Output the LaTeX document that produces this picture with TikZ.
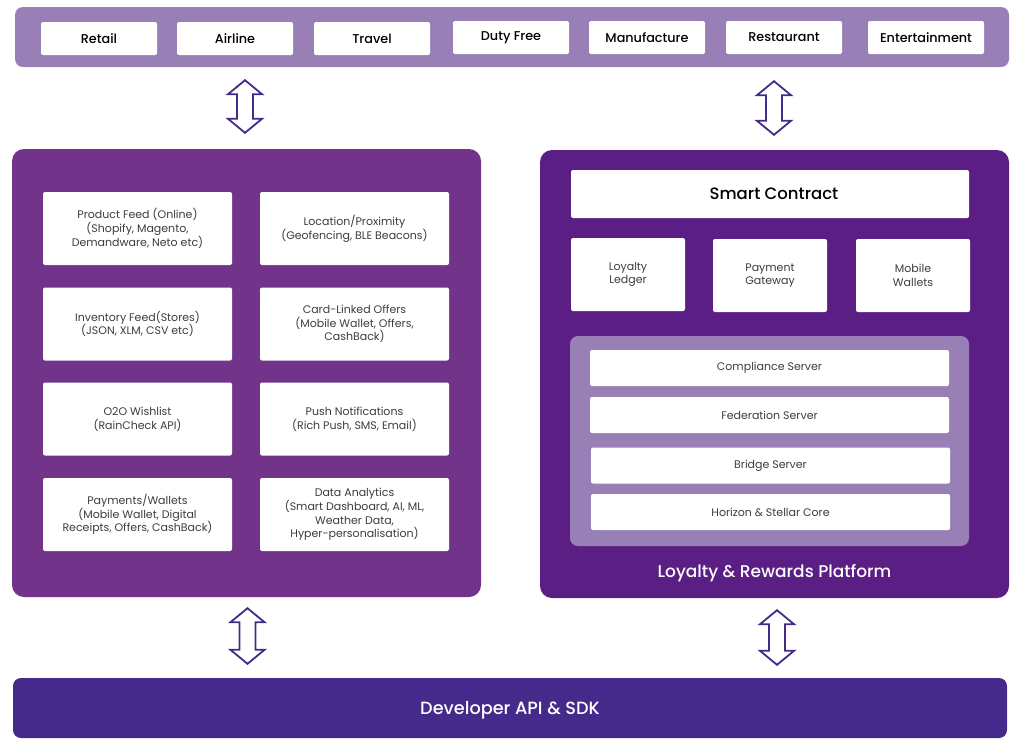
\documentclass[tikz,border=0pt]{standalone}
\usepackage{fontspec}
\setmainfont[BoldFont={Poppins Medium}]{Poppins}
\usetikzlibrary{calc}
\definecolor{lilac}{HTML}{9880B6}
\definecolor{plum}{HTML}{72338A}
\definecolor{grape}{HTML}{5A1E84}
\definecolor{indigo}{HTML}{452A8B}
\definecolor{inktext}{HTML}{3C3C44}
\tikzset{
    band/.style={fill=#1, rounded corners=8pt, inner sep=0pt, text=white},
    whitebox/.style={fill=white, rounded corners=2pt, inner sep=0pt, align=center, text=inktext,
        font=\fontsize{11}{13.7}\selectfont},
    sectorbox/.style={whitebox, minimum width=116pt, minimum height=33pt, text=black,
        font=\fontsize{12.8}{14}\selectfont\bfseries},
    feedbox/.style={whitebox, minimum width=189pt, minimum height=73pt},
    modulebox/.style={whitebox, minimum width=114pt, minimum height=73pt},
    serverbox/.style={whitebox, minimum width=359pt, minimum height=36pt},
    blockarrow/.style 2 args={draw=indigo, line width=1.8pt, fill=white, to path={
        let \p1=(\tikztostart), \p2=(\tikztotarget) in
        (\x1,\y1-#1pt) -- (\x1+17pt,\y1-#1pt-14pt) -- (\x1+8pt,\y1-#1pt-14pt)
        -- (\x1+8pt,\y2+#2pt+14pt) -- (\x1+17pt,\y2+#2pt+14pt) -- (\x1,\y2+#2pt)
        -- (\x1-17pt,\y2+#2pt+14pt) -- (\x1-8pt,\y2+#2pt+14pt)
        -- (\x1-8pt,\y1-#1pt-14pt) -- (\x1-17pt,\y1-#1pt-14pt) -- cycle}}
}
\begin{document}
\begin{tikzpicture}[x=1pt, y=-1pt]
    \useasboundingbox (0,0) rectangle (1024,753);

    % Sectors
    \node[band=lilac, minimum width=994pt, minimum height=60pt] (sectors) at (512,37) {};
    \foreach \name/\x/\y/\label in {retail/99/38.5/Retail, airline/235/38.5/Airline, travel/372/38.5/Travel,
        dutyfree/511/37.5/Duty Free, manufacture/647/37.5/Manufacture, restaurant/784/37.5/Restaurant,
        entertainment/926/37.5/Entertainment} {
        \node[sectorbox] (\name) at (\x,\y) {\label};
    }

    % Left panel
    \node[band=plum, rounded corners=12pt, minimum width=469pt, minimum height=448pt] (feeds) at (246.5,373) {};
    \foreach \name/\x/\y/\label in {
        product/137.5/228.5/{Product Feed (Online)\\(Shopify, Magento,\\Demandware, Neto etc)},
        location/354.5/228.5/{Location/Proximity\\(Geofencing, BLE Beacons)},
        inventory/137.5/324/{Inventory Feed(Stores)\\(JSON, XLM, CSV etc)},
        card/354.5/324/{Card-Linked Offers\\(Mobile Wallet, Offers,\\CashBack)},
        wishlist/137.5/419/{O2O Wishlist\\(RainCheck API)},
        push/354.5/419/{Push Notifications\\(Rich Push, SMS, Email)},
        payments/137.5/514.5/{Payments/Wallets\\(Mobile Wallet, Digital\\Receipts, Offers, CashBack)},
        analytics/354.5/514.5/{Data Analytics\\(Smart Dashboard, AI, ML,\\Weather Data,\\Hyper-personalisation)}} {
        \node[feedbox] (\name) at (\x,\y) {\label};
    }

    % Right panel
    \node[band=grape, rounded corners=12pt, minimum width=469pt, minimum height=448pt] (platform) at (774.5,374) {};
    \node[whitebox, minimum width=398pt, minimum height=48pt, text=black, text height=11.5pt, text depth=0pt,
        font=\fontsize{16.5}{18}\selectfont\bfseries] (contract) at (770,194) {\hspace{8pt}Smart Contract};
    \node[modulebox] (ledger) at (628,274.5) {Loyalty\\Ledger};
    \node[modulebox] (gateway) at (770,275.5) {Payment\\Gateway};
    \node[modulebox] (wallets) at (913,275.5) {Mobile\\Wallets};

    \node[band=lilac, minimum width=399pt, minimum height=210pt] (stack) at (769.5,441) {};
    \foreach \name/\x/\y/\label in {compliance/769.5/368/Compliance Server, federation/769.5/415/Federation Server,
        bridge/770.5/465.5/Bridge Server, horizon/770.5/512/Horizon \& Stellar Core} {
        \node[serverbox] (\name) at (\x,\y) {\label};
    }
    \node[text=white, inner sep=0pt, font=\fontsize{17}{18}\selectfont\bfseries] (platformname) at (774.5,573) {Loyalty \& Rewards Platform};

    % Developer bar
    \node[band=indigo, minimum width=994pt, minimum height=60pt, text height=12.4pt, text depth=0pt,
        font=\fontsize{17.7}{18}\selectfont\bfseries] (devapi) at (510,708) {Developer API \& SDK};

    % Arrows
    \draw[blockarrow={13}{16}] (sectors.south -| 245,0) to (feeds.north -| 245,0);
    \draw[blockarrow={14}{15}] (sectors.south -| 774,0) to (platform.north -| 774,0);
    \draw[blockarrow={11}{14}] (feeds.south -| 247.5,0) to (devapi.north -| 247.5,0);
    \draw[blockarrow={12}{13}] (platform.south -| 777,0) to (devapi.north -| 777,0);
\end{tikzpicture}
\end{document}
